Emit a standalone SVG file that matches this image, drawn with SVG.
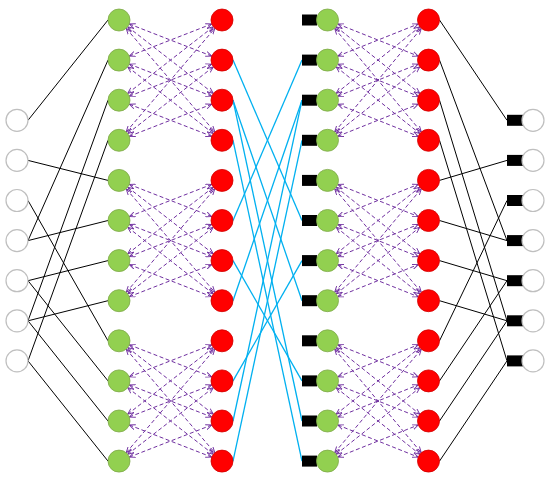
<svg xmlns="http://www.w3.org/2000/svg" width="550" height="480" viewBox="0 0 550 480">
<style>
.bk{stroke:#000;stroke-width:1;fill:none}
.cy{stroke:#00B0F0;stroke-width:1.3;fill:none}
.dp{stroke:#7030A0;stroke-width:1;stroke-dasharray:4,2.5;fill:none;marker-start:url(#ah);marker-end:url(#ah)}
.w{fill:#fff;stroke:#BFBFBF;stroke-width:1.2}
.g{fill:#92D050;stroke:#7FA84A;stroke-width:0.8}
.r{fill:#FF0000;stroke:#D00000;stroke-width:0.8}
.sq{fill:#000}
</style>
<defs>
<marker id="ah" viewBox="0 0 8 8" refX="8" refY="4" markerWidth="6" markerHeight="6" markerUnits="userSpaceOnUse" orient="auto-start-reverse">
<path d="M0,0.6 L8,4 L0,7.4" fill="none" stroke="#7030A0" stroke-width="1.2"/>
</marker>
</defs>
<g id="connectors">
<g id="left-links">
<line class="bk" x1="28" y1="120.3" x2="108" y2="20"/>
<line class="bk" x1="28" y1="160.4" x2="108" y2="180.4"/>
<line class="bk" x1="28" y1="200.5" x2="108" y2="340.8"/>
<line class="bk" x1="28" y1="240.6" x2="108" y2="60.1"/>
<line class="bk" x1="28" y1="240.6" x2="108" y2="220.5"/>
<line class="bk" x1="28" y1="280.7" x2="108" y2="260.6"/>
<line class="bk" x1="28" y1="280.7" x2="108" y2="380.9"/>
<line class="bk" x1="28" y1="320.8" x2="108" y2="100.2"/>
<line class="bk" x1="28" y1="320.8" x2="108" y2="300.7"/>
<line class="bk" x1="28" y1="320.8" x2="108" y2="421"/>
<line class="bk" x1="28" y1="360.9" x2="108" y2="140.3"/>
<line class="bk" x1="28" y1="360.9" x2="108" y2="461.1"/>
</g>
<g id="right-links">
<line class="bk" x1="439.5" y1="20" x2="507" y2="120.3"/>
<line class="bk" x1="439.5" y1="60.1" x2="507" y2="240.6"/>
<line class="bk" x1="439.5" y1="100.2" x2="507" y2="320.8"/>
<line class="bk" x1="439.5" y1="140.3" x2="507" y2="360.9"/>
<line class="bk" x1="439.5" y1="180.4" x2="507" y2="160.4"/>
<line class="bk" x1="439.5" y1="220.5" x2="507" y2="240.6"/>
<line class="bk" x1="439.5" y1="260.6" x2="507" y2="280.7"/>
<line class="bk" x1="439.5" y1="300.7" x2="507" y2="320.8"/>
<line class="bk" x1="439.5" y1="340.8" x2="507" y2="200.5"/>
<line class="bk" x1="439.5" y1="380.9" x2="507" y2="280.7"/>
<line class="bk" x1="439.5" y1="421" x2="507" y2="320.8"/>
<line class="bk" x1="439.5" y1="461.1" x2="507" y2="360.9"/>
</g>
<g id="middle-links">
<line class="cy" x1="233" y1="60.1" x2="302" y2="220.5"/>
<line class="cy" x1="233" y1="220.5" x2="302" y2="60.1"/>
<line class="cy" x1="233" y1="100.2" x2="302" y2="300.7"/>
<line class="cy" x1="233" y1="300.7" x2="302" y2="100.2"/>
<line class="cy" x1="233" y1="100.2" x2="302" y2="421"/>
<line class="cy" x1="233" y1="421" x2="302" y2="100.2"/>
<line class="cy" x1="233" y1="140.3" x2="302" y2="461.1"/>
<line class="cy" x1="233" y1="461.1" x2="302" y2="140.3"/>
<line class="cy" x1="233" y1="260.6" x2="302" y2="380.9"/>
<line class="cy" x1="233" y1="380.9" x2="302" y2="260.6"/>
</g>
<g id="mesh-1">
<line class="dp" x1="129.3" y1="24" x2="211.7" y2="56.1"/>
<line class="dp" x1="127.7" y1="26.8" x2="213.3" y2="93.4"/>
<line class="dp" x1="126.2" y1="28.4" x2="214.8" y2="131.9"/>
<line class="dp" x1="129.3" y1="56.1" x2="211.7" y2="24"/>
<line class="dp" x1="129.3" y1="64.1" x2="211.7" y2="96.2"/>
<line class="dp" x1="127.7" y1="66.9" x2="213.3" y2="133.5"/>
<line class="dp" x1="127.7" y1="93.4" x2="213.3" y2="26.8"/>
<line class="dp" x1="129.3" y1="96.2" x2="211.7" y2="64.1"/>
<line class="dp" x1="129.3" y1="104.2" x2="211.7" y2="136.3"/>
<line class="dp" x1="126.2" y1="131.9" x2="214.8" y2="28.4"/>
<line class="dp" x1="127.7" y1="133.5" x2="213.3" y2="66.9"/>
<line class="dp" x1="129.3" y1="136.3" x2="211.7" y2="104.2"/>
<line class="dp" x1="129.3" y1="184.4" x2="211.7" y2="216.5"/>
<line class="dp" x1="127.7" y1="187.2" x2="213.3" y2="253.8"/>
<line class="dp" x1="126.2" y1="188.8" x2="214.8" y2="292.3"/>
<line class="dp" x1="129.3" y1="216.5" x2="211.7" y2="184.4"/>
<line class="dp" x1="129.3" y1="224.5" x2="211.7" y2="256.6"/>
<line class="dp" x1="127.7" y1="227.3" x2="213.3" y2="293.9"/>
<line class="dp" x1="127.7" y1="253.8" x2="213.3" y2="187.2"/>
<line class="dp" x1="129.3" y1="256.6" x2="211.7" y2="224.5"/>
<line class="dp" x1="129.3" y1="264.6" x2="211.7" y2="296.7"/>
<line class="dp" x1="126.2" y1="292.3" x2="214.8" y2="188.8"/>
<line class="dp" x1="127.7" y1="293.9" x2="213.3" y2="227.3"/>
<line class="dp" x1="129.3" y1="296.7" x2="211.7" y2="264.6"/>
<line class="dp" x1="129.3" y1="344.8" x2="211.7" y2="376.9"/>
<line class="dp" x1="127.7" y1="347.6" x2="213.3" y2="414.2"/>
<line class="dp" x1="126.2" y1="349.2" x2="214.8" y2="452.7"/>
<line class="dp" x1="129.3" y1="376.9" x2="211.7" y2="344.8"/>
<line class="dp" x1="129.3" y1="384.9" x2="211.7" y2="417"/>
<line class="dp" x1="127.7" y1="387.7" x2="213.3" y2="454.3"/>
<line class="dp" x1="127.7" y1="414.2" x2="213.3" y2="347.6"/>
<line class="dp" x1="129.3" y1="417" x2="211.7" y2="384.9"/>
<line class="dp" x1="129.3" y1="425" x2="211.7" y2="457.1"/>
<line class="dp" x1="126.2" y1="452.7" x2="214.8" y2="349.2"/>
<line class="dp" x1="127.7" y1="454.3" x2="213.3" y2="387.7"/>
<line class="dp" x1="129.3" y1="457.1" x2="211.7" y2="425"/>
</g>
<g id="mesh-2">
<line class="dp" x1="337.8" y1="24" x2="418.2" y2="56.1"/>
<line class="dp" x1="336.2" y1="26.8" x2="419.8" y2="93.4"/>
<line class="dp" x1="334.7" y1="28.4" x2="421.3" y2="131.9"/>
<line class="dp" x1="337.8" y1="56.1" x2="418.2" y2="24"/>
<line class="dp" x1="337.8" y1="64.1" x2="418.2" y2="96.2"/>
<line class="dp" x1="336.2" y1="66.9" x2="419.8" y2="133.5"/>
<line class="dp" x1="336.2" y1="93.4" x2="419.8" y2="26.8"/>
<line class="dp" x1="337.8" y1="96.2" x2="418.2" y2="64.1"/>
<line class="dp" x1="337.8" y1="104.2" x2="418.2" y2="136.3"/>
<line class="dp" x1="334.7" y1="131.9" x2="421.3" y2="28.4"/>
<line class="dp" x1="336.2" y1="133.5" x2="419.8" y2="66.9"/>
<line class="dp" x1="337.8" y1="136.3" x2="418.2" y2="104.2"/>
<line class="dp" x1="337.8" y1="184.4" x2="418.2" y2="216.5"/>
<line class="dp" x1="336.2" y1="187.2" x2="419.8" y2="253.8"/>
<line class="dp" x1="334.7" y1="188.8" x2="421.3" y2="292.3"/>
<line class="dp" x1="337.8" y1="216.5" x2="418.2" y2="184.4"/>
<line class="dp" x1="337.8" y1="224.5" x2="418.2" y2="256.6"/>
<line class="dp" x1="336.2" y1="227.3" x2="419.8" y2="293.9"/>
<line class="dp" x1="336.2" y1="253.8" x2="419.8" y2="187.2"/>
<line class="dp" x1="337.8" y1="256.6" x2="418.2" y2="224.5"/>
<line class="dp" x1="337.8" y1="264.6" x2="418.2" y2="296.7"/>
<line class="dp" x1="334.7" y1="292.3" x2="421.3" y2="188.8"/>
<line class="dp" x1="336.2" y1="293.9" x2="419.8" y2="227.3"/>
<line class="dp" x1="337.8" y1="296.7" x2="418.2" y2="264.6"/>
<line class="dp" x1="337.8" y1="344.8" x2="418.2" y2="376.9"/>
<line class="dp" x1="336.2" y1="347.6" x2="419.8" y2="414.2"/>
<line class="dp" x1="334.7" y1="349.2" x2="421.3" y2="452.7"/>
<line class="dp" x1="337.8" y1="376.9" x2="418.2" y2="344.8"/>
<line class="dp" x1="337.8" y1="384.9" x2="418.2" y2="417"/>
<line class="dp" x1="336.2" y1="387.7" x2="419.8" y2="454.3"/>
<line class="dp" x1="336.2" y1="414.2" x2="419.8" y2="347.6"/>
<line class="dp" x1="337.8" y1="417" x2="418.2" y2="384.9"/>
<line class="dp" x1="337.8" y1="425" x2="418.2" y2="457.1"/>
<line class="dp" x1="334.7" y1="452.7" x2="421.3" y2="349.2"/>
<line class="dp" x1="336.2" y1="454.3" x2="419.8" y2="387.7"/>
<line class="dp" x1="337.8" y1="457.1" x2="418.2" y2="425"/>
</g>
</g>
<g id="inputs">
<g id="in1"><circle class="w" cx="17" cy="120.3" r="11"/></g>
<g id="in2"><circle class="w" cx="17" cy="160.4" r="11"/></g>
<g id="in3"><circle class="w" cx="17" cy="200.5" r="11"/></g>
<g id="in4"><circle class="w" cx="17" cy="240.6" r="11"/></g>
<g id="in5"><circle class="w" cx="17" cy="280.7" r="11"/></g>
<g id="in6"><circle class="w" cx="17" cy="320.8" r="11"/></g>
<g id="in7"><circle class="w" cx="17" cy="360.9" r="11"/></g>
</g>
<g id="green1">
<g id="g1-1"><circle class="g" cx="119" cy="20" r="11"/></g>
<g id="g1-2"><circle class="g" cx="119" cy="60.1" r="11"/></g>
<g id="g1-3"><circle class="g" cx="119" cy="100.2" r="11"/></g>
<g id="g1-4"><circle class="g" cx="119" cy="140.3" r="11"/></g>
<g id="g1-5"><circle class="g" cx="119" cy="180.4" r="11"/></g>
<g id="g1-6"><circle class="g" cx="119" cy="220.5" r="11"/></g>
<g id="g1-7"><circle class="g" cx="119" cy="260.6" r="11"/></g>
<g id="g1-8"><circle class="g" cx="119" cy="300.7" r="11"/></g>
<g id="g1-9"><circle class="g" cx="119" cy="340.8" r="11"/></g>
<g id="g1-10"><circle class="g" cx="119" cy="380.9" r="11"/></g>
<g id="g1-11"><circle class="g" cx="119" cy="421" r="11"/></g>
<g id="g1-12"><circle class="g" cx="119" cy="461.1" r="11"/></g>
</g>
<g id="red1">
<g id="r1-1"><circle class="r" cx="222" cy="20" r="11"/></g>
<g id="r1-2"><circle class="r" cx="222" cy="60.1" r="11"/></g>
<g id="r1-3"><circle class="r" cx="222" cy="100.2" r="11"/></g>
<g id="r1-4"><circle class="r" cx="222" cy="140.3" r="11"/></g>
<g id="r1-5"><circle class="r" cx="222" cy="180.4" r="11"/></g>
<g id="r1-6"><circle class="r" cx="222" cy="220.5" r="11"/></g>
<g id="r1-7"><circle class="r" cx="222" cy="260.6" r="11"/></g>
<g id="r1-8"><circle class="r" cx="222" cy="300.7" r="11"/></g>
<g id="r1-9"><circle class="r" cx="222" cy="340.8" r="11"/></g>
<g id="r1-10"><circle class="r" cx="222" cy="380.9" r="11"/></g>
<g id="r1-11"><circle class="r" cx="222" cy="421" r="11"/></g>
<g id="r1-12"><circle class="r" cx="222" cy="461.1" r="11"/></g>
</g>
<g id="green2">
<g id="g2-1"><rect class="sq" x="302" y="14.5" width="15" height="11"/><circle class="g" cx="327.5" cy="20" r="11"/></g>
<g id="g2-2"><rect class="sq" x="302" y="54.6" width="15" height="11"/><circle class="g" cx="327.5" cy="60.1" r="11"/></g>
<g id="g2-3"><rect class="sq" x="302" y="94.7" width="15" height="11"/><circle class="g" cx="327.5" cy="100.2" r="11"/></g>
<g id="g2-4"><rect class="sq" x="302" y="134.8" width="15" height="11"/><circle class="g" cx="327.5" cy="140.3" r="11"/></g>
<g id="g2-5"><rect class="sq" x="302" y="174.9" width="15" height="11"/><circle class="g" cx="327.5" cy="180.4" r="11"/></g>
<g id="g2-6"><rect class="sq" x="302" y="215" width="15" height="11"/><circle class="g" cx="327.5" cy="220.5" r="11"/></g>
<g id="g2-7"><rect class="sq" x="302" y="255.1" width="15" height="11"/><circle class="g" cx="327.5" cy="260.6" r="11"/></g>
<g id="g2-8"><rect class="sq" x="302" y="295.2" width="15" height="11"/><circle class="g" cx="327.5" cy="300.7" r="11"/></g>
<g id="g2-9"><rect class="sq" x="302" y="335.3" width="15" height="11"/><circle class="g" cx="327.5" cy="340.8" r="11"/></g>
<g id="g2-10"><rect class="sq" x="302" y="375.4" width="15" height="11"/><circle class="g" cx="327.5" cy="380.9" r="11"/></g>
<g id="g2-11"><rect class="sq" x="302" y="415.5" width="15" height="11"/><circle class="g" cx="327.5" cy="421" r="11"/></g>
<g id="g2-12"><rect class="sq" x="302" y="455.6" width="15" height="11"/><circle class="g" cx="327.5" cy="461.1" r="11"/></g>
</g>
<g id="red2">
<g id="r2-1"><circle class="r" cx="428.5" cy="20" r="11"/></g>
<g id="r2-2"><circle class="r" cx="428.5" cy="60.1" r="11"/></g>
<g id="r2-3"><circle class="r" cx="428.5" cy="100.2" r="11"/></g>
<g id="r2-4"><circle class="r" cx="428.5" cy="140.3" r="11"/></g>
<g id="r2-5"><circle class="r" cx="428.5" cy="180.4" r="11"/></g>
<g id="r2-6"><circle class="r" cx="428.5" cy="220.5" r="11"/></g>
<g id="r2-7"><circle class="r" cx="428.5" cy="260.6" r="11"/></g>
<g id="r2-8"><circle class="r" cx="428.5" cy="300.7" r="11"/></g>
<g id="r2-9"><circle class="r" cx="428.5" cy="340.8" r="11"/></g>
<g id="r2-10"><circle class="r" cx="428.5" cy="380.9" r="11"/></g>
<g id="r2-11"><circle class="r" cx="428.5" cy="421" r="11"/></g>
<g id="r2-12"><circle class="r" cx="428.5" cy="461.1" r="11"/></g>
</g>
<g id="outputs">
<g id="out1"><rect class="sq" x="507" y="114.8" width="16" height="11"/><circle class="w" cx="533" cy="120.3" r="11"/></g>
<g id="out2"><rect class="sq" x="507" y="154.9" width="16" height="11"/><circle class="w" cx="533" cy="160.4" r="11"/></g>
<g id="out3"><rect class="sq" x="507" y="195" width="16" height="11"/><circle class="w" cx="533" cy="200.5" r="11"/></g>
<g id="out4"><rect class="sq" x="507" y="235.1" width="16" height="11"/><circle class="w" cx="533" cy="240.6" r="11"/></g>
<g id="out5"><rect class="sq" x="507" y="275.2" width="16" height="11"/><circle class="w" cx="533" cy="280.7" r="11"/></g>
<g id="out6"><rect class="sq" x="507" y="315.3" width="16" height="11"/><circle class="w" cx="533" cy="320.8" r="11"/></g>
<g id="out7"><rect class="sq" x="507" y="355.4" width="16" height="11"/><circle class="w" cx="533" cy="360.9" r="11"/></g>
</g>
</svg>
